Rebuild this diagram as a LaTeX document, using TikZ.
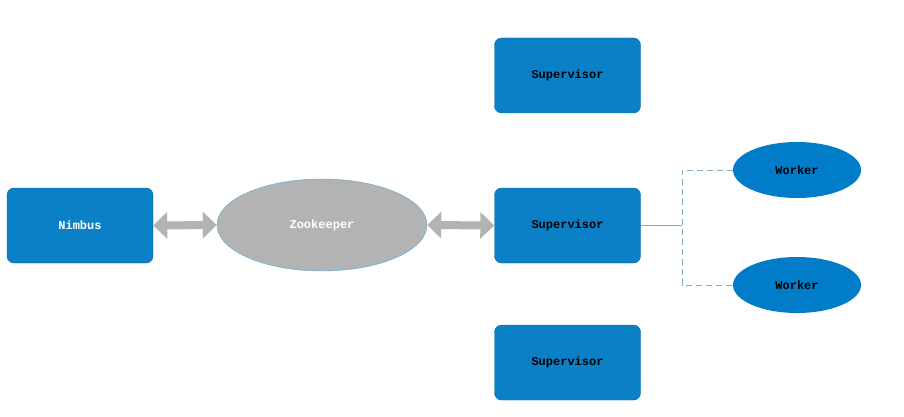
\documentclass[tikz,border=0pt]{standalone}
\usepackage{fontspec}
\setmonofont{Liberation Mono}
\usetikzlibrary{arrows.meta}
\definecolor{boxb}{HTML}{0B80C6}
\definecolor{wb}{HTML}{007CC8}
\definecolor{zg}{HTML}{B3B3B3}
\definecolor{ln}{HTML}{7FAFC0}
\begin{document}
\begin{tikzpicture}[x=1pt,y=-1pt,
  box/.style={draw=boxb!80!black,line width=0.4pt,fill=boxb,rounded corners=7pt,minimum width=146pt,minimum height=75pt,font=\ttfamily\bfseries\fontsize{12}{14}\selectfont},
  wk/.style={ellipse,fill=wb,minimum width=128pt,minimum height=56pt,font=\ttfamily\bfseries\fontsize{12}{14}\selectfont},
  dbl/.style={draw=zg,line width=8pt,{Triangle[width=26pt,length=14pt]}-{Triangle[width=26pt,length=14pt]}},
  conn/.style={draw=ln,line width=1pt}]
\usetikzlibrary{shapes.geometric}
\useasboundingbox (0,0) rectangle (904,417);
\node[box,text=white] (nim) at (80,225.5) {Nimbus};
\node[ellipse,draw=boxb!70,fill=zg,minimum width=210pt,minimum height=92pt,text=white,font=\ttfamily\bfseries\fontsize{12}{14}\selectfont] (zk) at (322,225) {Zookeeper};
\node[box] (s1) at (567.5,75.5) {Supervisor};
\node[box] (s2) at (567.5,225.5) {Supervisor};
\node[box] (s3) at (567.5,362.5) {Supervisor};
\node[wk] (w1) at (797,170) {Worker};
\node[wk] (w2) at (797,285) {Worker};
\draw[dbl] (nim.east) -- (zk.west);
\draw[dbl] (zk.east) -- (s2.west);
\coordinate (j) at (682,225.5);
\draw[conn] (s2.east) -- (j);
\draw[conn,dashed,dash pattern=on 6pt off 4pt] (w1.west) -| (j) |- (w2.west);
\end{tikzpicture}
\end{document}
